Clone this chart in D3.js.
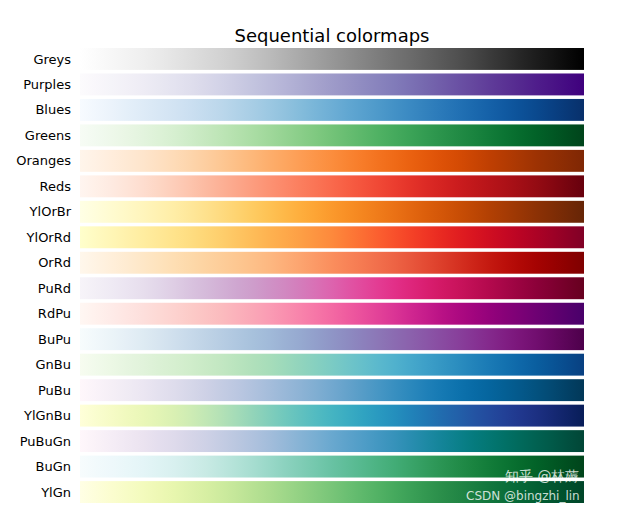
<!DOCTYPE html>
<html>
<head>
<meta charset="utf-8">
<script src="https://cdn.jsdelivr.net/npm/d3@7"></script>
<style>
  body { margin: 0; background: #fff; }
  text { font-family: "DejaVu Sans", sans-serif; }
</style>
</head>
<body>
<svg id="chart" width="619" height="509"></svg>
<script>
// colormap names, top to bottom
var cmapNames = ['Greys', 'Purples', 'Blues', 'Greens', 'Oranges', 'Reds',
  'YlOrBr', 'YlOrRd', 'OrRd', 'PuRd', 'RdPu', 'BuPu',
  'GnBu', 'PuBu', 'YlGnBu', 'PuBuGn', 'BuGn', 'YlGn'];
var gradientDomain = [0, 1];
var titleText = 'Sequential colormaps';

var svg = d3.select('#chart');
var x = d3.scaleLinear().domain(gradientDomain).range([80, 584]);
var y = d3.scaleBand().domain(cmapNames).range([48, 503]).paddingInner(0.14);

var defs = svg.append('defs');
cmapNames.forEach(function(name) {
  var interp = d3['interpolate' + name];
  var grad = defs.append('linearGradient').attr('id', 'g_' + name)
    .attr('x1', '0%').attr('x2', '100%').attr('y1', '0%').attr('y2', '0%');
  d3.range(0, 1.0001, 1 / 32).forEach(function(t) {
    grad.append('stop').attr('offset', (t * 100) + '%').attr('stop-color', interp(t));
  });
});

svg.selectAll('rect.bar')
  .data(cmapNames)
  .enter().append('rect')
    .attr('class', 'bar')
    .attr('x', x(0))
    .attr('width', x(1) - x(0))
    .attr('y', function(d) { return y(d); })
    .attr('height', y.bandwidth())
    .attr('fill', function(d) { return 'url(#g_' + d + ')'; });

svg.selectAll('text.lab')
  .data(cmapNames)
  .enter().append('text')
    .attr('class', 'lab')
    .attr('x', 71)
    .attr('y', function(d) { return y(d) + y.bandwidth() / 2; })
    .attr('dy', '0.35em')
    .attr('text-anchor', 'end')
    .attr('font-size', 13)
    .text(function(d) { return d; });

svg.append('text')
  .attr('x', (x(0) + x(1)) / 2)
  .attr('y', 42)
  .attr('text-anchor', 'middle')
  .attr('font-size', 18)
  .text(titleText);

// watermark
svg.append('text').attr('x', 505).attr('y', 481).attr('font-size', 14)
  .attr('fill', 'rgba(255,255,255,0.8)').attr('font-family', 'Noto Sans CJK SC').text('知乎 @林薅');
svg.append('text').attr('x', 466).attr('y', 500).attr('font-size', 12)
  .attr('fill', 'rgba(255,255,255,0.8)').text('CSDN @bingzhi_lin');
</script>
</body>
</html>
